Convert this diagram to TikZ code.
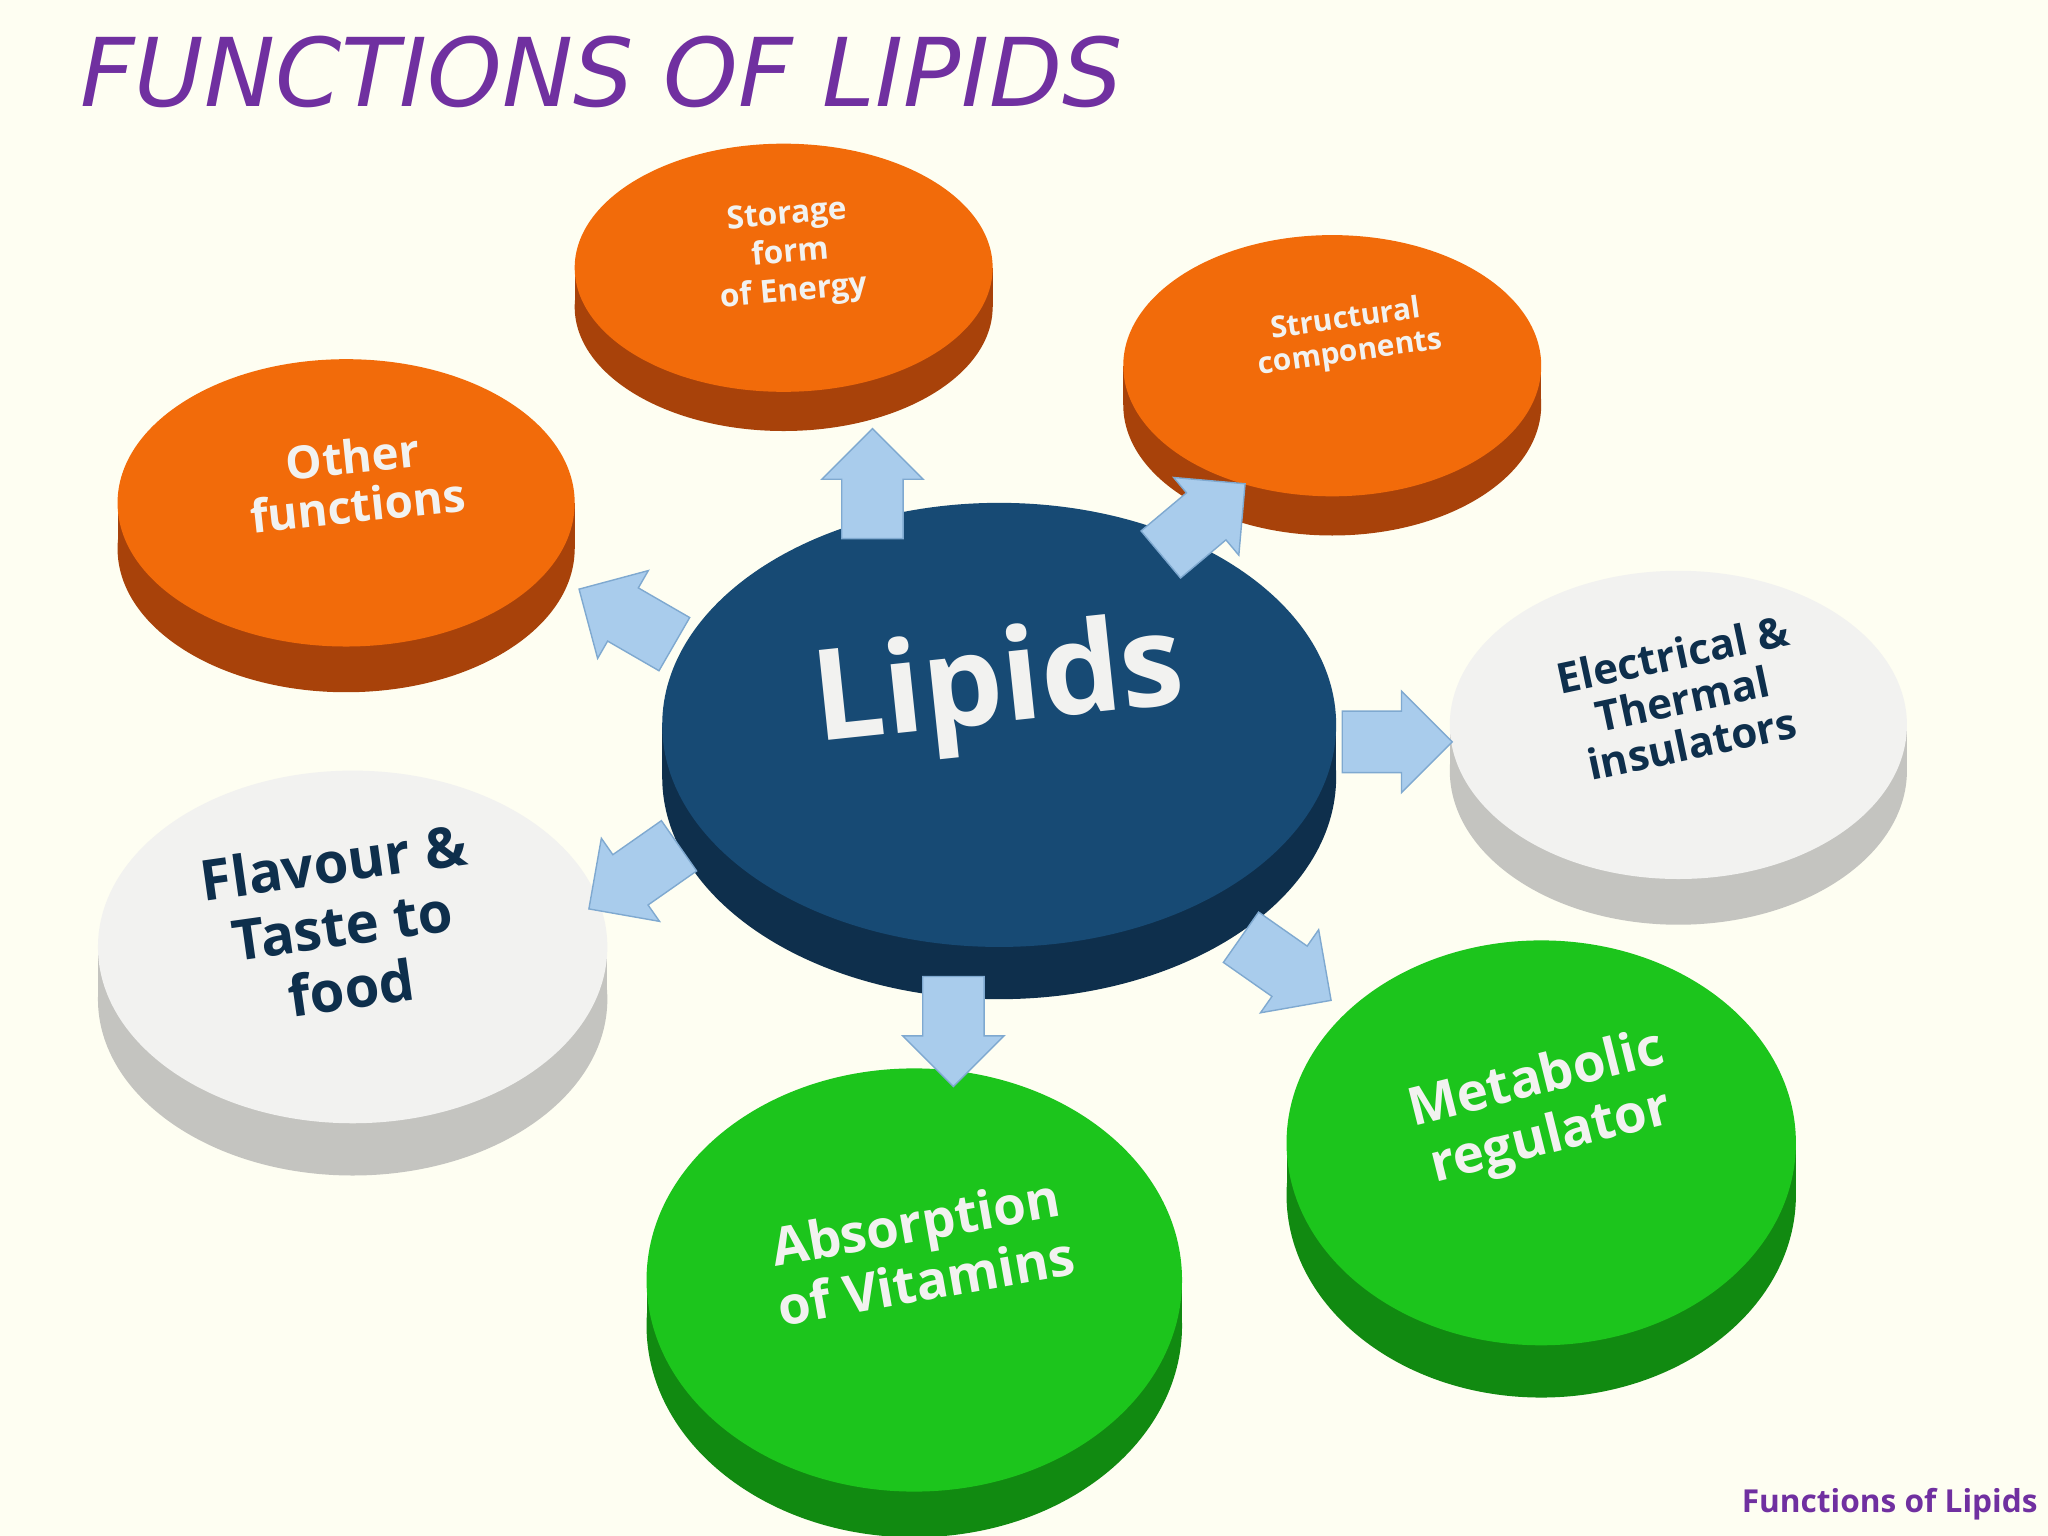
\documentclass[tikz,border=0pt]{standalone}
\usepackage{fontspec}
\setmainfont{Open Sans}
\newfontfamily\titlefont{DejaVu Sans}
\usetikzlibrary{shapes.arrows}
\definecolor{bg}{HTML}{FEFEF2}
\definecolor{ttl}{HTML}{7030A0}
\definecolor{org}{HTML}{F26B0A}
\definecolor{orgd}{HTML}{A8420A}
\definecolor{grn}{HTML}{1CC51C}
\definecolor{grnd}{HTML}{118A11}
\definecolor{wht}{HTML}{F2F2F0}
\definecolor{whtd}{HTML}{C4C4C0}
\definecolor{blu}{HTML}{174A74}
\definecolor{blud}{HTML}{0E2F4C}
\definecolor{arr}{HTML}{A9CCEC}
\definecolor{arrd}{HTML}{7FA9D0}
\tikzset{
 disktxt/.style={font=\bfseries, align=center, text=#1},
 blockarrow/.style={single arrow, draw=arrd, fill=arr, minimum height=1.1cm, single arrow head extend=0.2cm, inner sep=0pt}
}
\newcommand{\disk}[7]{% x y rx ry top dark thickness
 \fill[#6] (#1,#2+#7) ellipse[x radius=#3, y radius=#4];
 \fill[#6] (#1-#3,#2) rectangle (#1+#3,#2+#7);
 \fill[#5] (#1,#2) ellipse[x radius=#3, y radius=#4];
}
\newcommand{\ashaft}{\rule{0.25cm}{0pt}\rule[-0.3cm]{0pt}{0.6cm}}
\begin{document}
\begin{tikzpicture}[x=0.01306cm,y=-0.01306cm]
\fill[bg] (0,0) rectangle (1568,1176);
\useasboundingbox (0,0) rectangle (1568,1176);
\node[anchor=west, text=ttl, font=\titlefont\itshape\fontsize{27}{30}\selectfont] (title) at (52,55) {FUNCTIONS OF LIPIDS};
\node[anchor=south east, text=ttl, font=\bfseries\fontsize{9}{11}\selectfont, inner sep=2pt] (foot) at (1566,1170) {Functions of Lipids};
% disks
\disk{600}{205}{160}{95}{org}{orgd}{30}
\disk{1020}{280}{160}{100}{org}{orgd}{30}
\disk{265}{385}{175}{110}{org}{orgd}{35}
\disk{1285}{555}{175}{118}{wht}{whtd}{35}
\disk{270}{725}{195}{135}{wht}{whtd}{40}
\disk{765}{555}{258}{170}{blu}{blud}{40}
\disk{1180}{875}{195}{155}{grn}{grnd}{40}
\disk{700}{980}{205}{162}{grn}{grnd}{35}
% labels
\node[disktxt=wht, rotate=5, font=\bfseries\fontsize{9}{11}\selectfont] (storage) at (605,195) {Storage\\form\\of Energy};
\node[disktxt=wht, rotate=8, font=\bfseries\fontsize{8.5}{9.5}\selectfont] (struct) at (1032,258) {Structural\\components};
\node[disktxt=wht, rotate=6, font=\bfseries\fontsize{13}{14}\selectfont] (other) at (272,368) {Other\\functions};
\node[disktxt=blud, rotate=12, font=\bfseries\fontsize{12}{13}\selectfont] (elec) at (1288,535) {Electrical \&\\Thermal\\insulators};
\node[disktxt=blud, rotate=8, font=\bfseries\fontsize{16}{18}\selectfont] (flav) at (262,708) {Flavour \&\\Taste to\\food};
\node[disktxt=wht, rotate=6, font=\bfseries\fontsize{36}{40}\selectfont] (lipids) at (765,528) {Lipids};
\node[disktxt=wht, rotate=14, font=\bfseries\fontsize{15}{17}\selectfont] (meta) at (1182,850) {Metabolic\\regulator};
\node[disktxt=wht, rotate=10, font=\bfseries\fontsize{15}{17}\selectfont] (abs) at (705,958) {Absorption\\of Vitamins};
% arrows
\node[blockarrow, rotate=90] (a1) at (668,382) {\ashaft};
\node[blockarrow, rotate=40] (a2) at (912,405) {\ashaft};
\node[blockarrow, rotate=150] (a3) at (490,478) {\ashaft};
\node[blockarrow, rotate=0] (a4) at (1058,568) {\ashaft};
\node[blockarrow, rotate=-35] (a5) at (975,735) {\ashaft};
\node[blockarrow, rotate=-90] (a6) at (730,778) {\ashaft};
\node[blockarrow, rotate=215] (a7) at (495,665) {\ashaft};
\end{tikzpicture}
\end{document}
